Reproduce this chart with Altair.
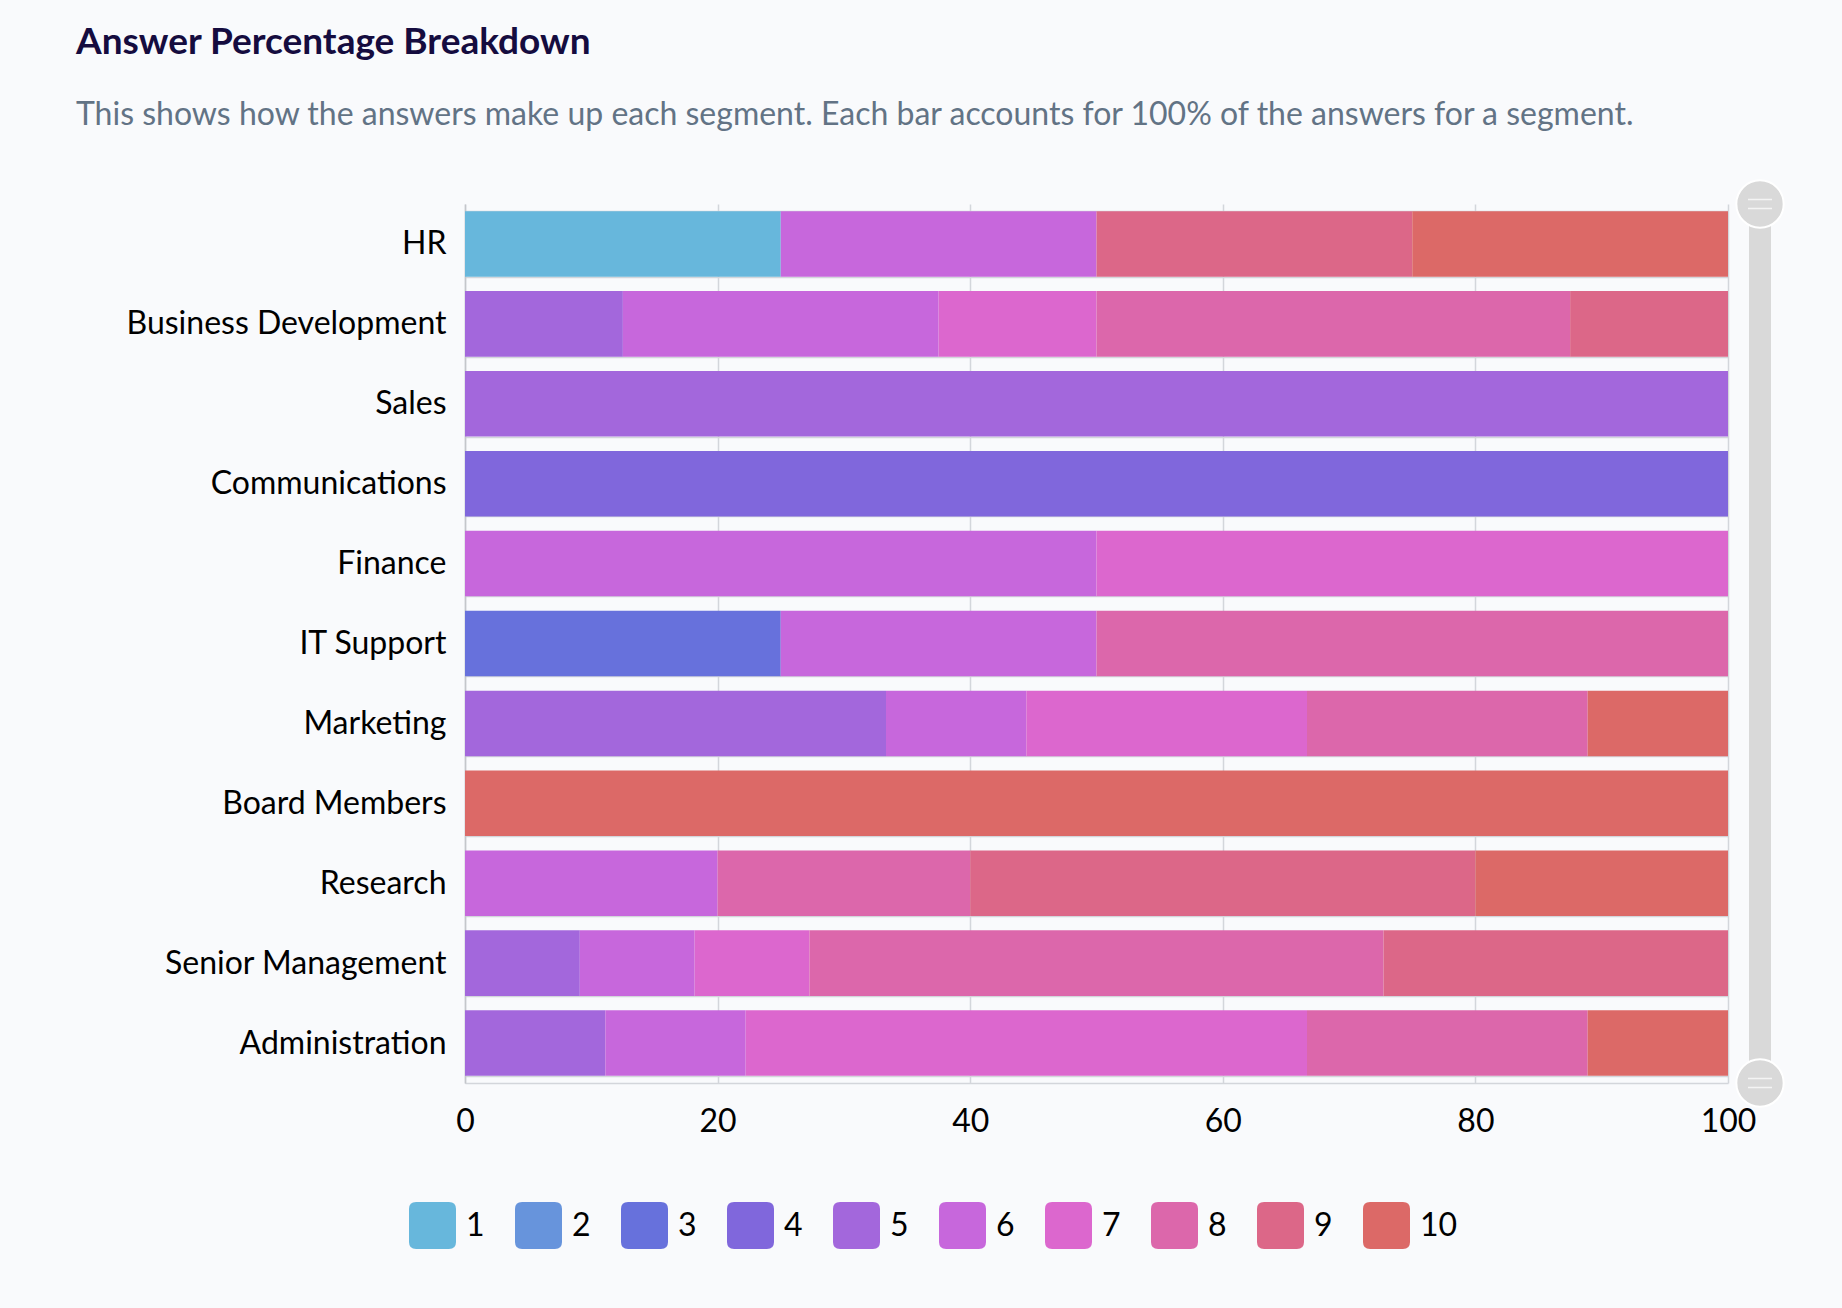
import altair as alt
import pandas as pd

segments = ["HR", "Business Development", "Sales", "Communications", "Finance",
            "IT Support", "Marketing", "Board Members", "Research",
            "Senior Management", "Administration"]
answers = ["1", "2", "3", "4", "5", "6", "7", "8", "9", "10"]
colors = ["#67b7dc", "#6794dc", "#6771dc", "#8067dc", "#a367dc",
          "#c767dc", "#dc67ce", "#dc67ab", "#dc6788", "#dc6967"]

# percentage share of each answer (1..10) per segment
hr = [25, 0, 0, 0, 0, 25, 0, 0, 25, 25]
business_development = [0, 0, 0, 0, 12.5, 25, 12.5, 37.5, 12.5, 0]
sales = [0, 0, 0, 0, 100, 0, 0, 0, 0, 0]
communications = [0, 0, 0, 100, 0, 0, 0, 0, 0, 0]
finance = [0, 0, 0, 0, 0, 50, 50, 0, 0, 0]
it_support = [0, 0, 25, 0, 0, 25, 0, 50, 0, 0]
marketing = [0, 0, 0, 0, 33.33, 11.11, 22.22, 22.22, 0, 11.11]
board_members = [0, 0, 0, 0, 0, 0, 0, 0, 0, 100]
research = [0, 0, 0, 0, 0, 20, 0, 20, 40, 20]
senior_management = [0, 0, 0, 0, 9.09, 9.09, 9.09, 45.45, 27.27, 0]
administration = [0, 0, 0, 0, 11.11, 11.11, 44.44, 22.22, 0, 11.11]

series = [hr, business_development, sales, communications, finance, it_support,
          marketing, board_members, research, senior_management, administration]

rows = []
for seg, vals in zip(segments, series):
    for a, v in zip(answers, vals):
        if v > 0:
            rows.append({"segment": seg, "answer": a, "order": int(a), "pct": v})
df = pd.DataFrame(rows)

FONT = "Lato"
GRID = "#d3d6db"
W, H = 1263, 879

rounded = "M-1,-0.7 Q-1,-1 -0.7,-1 L0.7,-1 Q1,-1 1,-0.7 L1,0.7 Q1,1 0.7,1 L-0.7,1 Q-1,1 -1,0.7 Z"

bars = alt.Chart(df).mark_bar(strokeWidth=0).encode(
    x=alt.X("pct:Q", stack="normalize",
            scale=alt.Scale(domain=[0, 1], nice=False),
            axis=alt.Axis(title=None, values=[0, 0.2, 0.4, 0.6, 0.8, 1.0],
                          labelExpr="round(datum.value*100)", labelFlush=False,
                          grid=True, gridColor=GRID, gridWidth=1.5,
                          domainColor=GRID, domainWidth=1.5, tickSize=0,
                          labelFontSize=32, labelPadding=23, labelColor="#000000",
                          labelFont=FONT)),
    y=alt.Y("segment:N", sort=segments,
            scale=alt.Scale(paddingInner=0.18, paddingOuter=0.09),
            axis=alt.Axis(title=None, grid=True, tickBand="extent",
                          gridColor=GRID, gridWidth=1.5,
                          domainColor="#c4c6ca", domainWidth=1.5, tickSize=0,
                          labelFontSize=32, labelPadding=19, labelColor="#000000",
                          labelFont=FONT, labelLimit=600)),
    color=alt.Color("answer:N", sort=answers,
                    scale=alt.Scale(domain=answers, range=colors),
                    legend=alt.Legend(title=None, orient="none", legendX=-56, legendY=998,
                                      direction="horizontal", columns=10,
                                      symbolType=rounded, symbolSize=2209,
                                      symbolStrokeWidth=0, symbolOpacity=1,
                                      labelFontSize=32, labelFont=FONT,
                                      labelColor="#000000", labelOffset=10,
                                      columnPadding=30, padding=0)),
    order=alt.Order("order:Q"),
)

one = pd.DataFrame({"k": [0]})
SB_X = 1295
track = alt.Chart(one).mark_rule(color="#d9d9d9", strokeWidth=22, strokeCap="butt").encode(
    x=alt.value(SB_X), y=alt.value(0), y2=alt.value(H))
knob_top = alt.Chart(one).mark_circle(size=2240, color="#d9d9d9", opacity=1,
                                      stroke="#ffffff", strokeWidth=2).encode(
    x=alt.value(SB_X), y=alt.value(0))
knob_bot = alt.Chart(one).mark_circle(size=2240, color="#d9d9d9", opacity=1,
                                      stroke="#ffffff", strokeWidth=2).encode(
    x=alt.value(SB_X), y=alt.value(H))
grips = []
for yc in (0, H):
    for dy in (-4.5, 4.5):
        grips.append(alt.Chart(one).mark_rule(color="#f4f4f4", strokeWidth=1.5).encode(
            x=alt.value(SB_X - 12), x2=alt.value(SB_X + 12), y=alt.value(yc + dy)))

chart = alt.layer(bars, track, knob_top, knob_bot, *grips).properties(
    width=W, height=H,
    padding={"left": 465, "top": 204, "right": 114, "bottom": 225},
    autosize=alt.AutoSizeParams(type="none"),
    background="#f9fafc",
    title=alt.TitleParams(
        text="Answer Percentage Breakdown",
        subtitle="This shows how the answers make up each segment. Each bar accounts for 100% of the answers for a segment.",
        anchor="start", frame="group", dx=-389, offset=44,
        font=FONT, fontSize=37, fontWeight="bold", color="#150c3f",
        subtitleFont=FONT, subtitleFontSize=32, subtitleColor="#627385",
        subtitlePadding=38,
    ),
).configure_view(stroke=None)

chart.save("out.html", embed_options={"renderer": "svg", "actions": False})
